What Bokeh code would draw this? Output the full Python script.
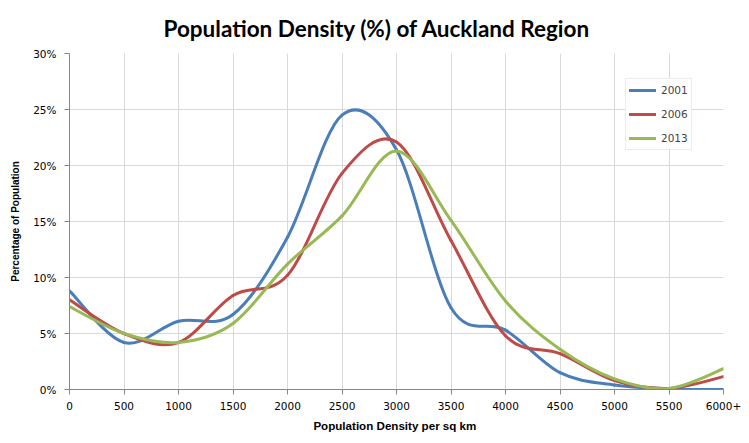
import numpy as np
from bokeh.plotting import figure
from bokeh.models import ColumnDataSource, NumeralTickFormatter, FixedTicker, Range1d, Legend, LegendItem
from bokeh.embed import file_html
from bokeh.resources import INLINE

# Population density bands (people per sq km); last band is open-ended
density = [0, 500, 1000, 1500, 2000, 2500, 3000, 3500, 4000, 4500, 5000, 5500, 6000]
tick_labels = ["0", "500", "1000", "1500", "2000", "2500", "3000", "3500",
               "4000", "4500", "5000", "5500", "6000+"]

# Share of population in each band (fraction)
pop_2001 = [0.088, 0.042, 0.061, 0.067, 0.136, 0.245, 0.214, 0.073, 0.053, 0.015, 0.004, 0.0005, 0.0]
pop_2006 = [0.080, 0.050, 0.042, 0.084, 0.102, 0.193, 0.221, 0.133, 0.048, 0.032, 0.008, 0.001, 0.0115]
pop_2013 = [0.074, 0.050, 0.042, 0.059, 0.112, 0.155, 0.213, 0.151, 0.079, 0.036, 0.0095, 0.001, 0.0185]

years = ["2001", "2006", "2013"]
series = [pop_2001, pop_2006, pop_2013]
colors = ["#4A7EBB", "#BE4B48", "#98B954"]


def smooth_segments(xs, ys, k=1.0 / 6.0):
    """Cubic Bezier segments through the points (Catmull-Rom style control points)."""
    xs = np.asarray(xs, float)
    ys = np.asarray(ys, float)
    n = len(xs)
    px = np.concatenate([[xs[0]], xs, [xs[-1]]])
    py = np.concatenate([[ys[0]], ys, [ys[-1]]])
    d = dict(x0=[], y0=[], x1=[], y1=[], cx0=[], cy0=[], cx1=[], cy1=[])
    for i in range(n - 1):
        j = i + 1
        d["x0"].append(px[j]); d["y0"].append(py[j])
        d["x1"].append(px[j + 1]); d["y1"].append(py[j + 1])
        d["cx0"].append(px[j] + (px[j + 1] - px[j - 1]) * k)
        d["cy0"].append(py[j] + (py[j + 1] - py[j - 1]) * k)
        d["cx1"].append(px[j + 1] - (px[j + 2] - px[j]) * k)
        d["cy1"].append(py[j + 1] - (py[j + 2] - py[j]) * k)
    return d


p = figure(width=749, height=443, output_backend="svg", toolbar_location=None,
           x_range=Range1d(0, 6000), y_range=Range1d(0, 0.30),
           min_border_left=69, min_border_right=26, min_border_top=53, min_border_bottom=54,
           title="Population Density (%) of Auckland Region")
p.outline_line_color = None
p.background_fill_color = "white"
p.border_fill_color = "white"

p.title.align = "left"
p.title.offset = 94
p.title.text_font = "Lato"
p.title.text_font_style = "bold"
p.title.text_font_size = "22.5px"
p.title.text_color = "#000000"
p.title.standoff = 24

grid_color = "#D9D9D9"
axis_color = "#868686"
p.xgrid.grid_line_color = grid_color
p.ygrid.grid_line_color = grid_color

p.xaxis.ticker = FixedTicker(ticks=density)
p.xaxis.major_label_overrides = {d: t for d, t in zip(density, tick_labels)}
p.yaxis.ticker = FixedTicker(ticks=[0, 0.05, 0.10, 0.15, 0.20, 0.25, 0.30])
p.yaxis.formatter = NumeralTickFormatter(format="0%")

for ax in (p.xaxis[0], p.yaxis[0]):
    ax.axis_line_color = axis_color
    ax.major_tick_line_color = axis_color
    ax.major_tick_out = 5
    ax.major_tick_in = 0
    ax.minor_tick_line_color = None
    ax.major_label_text_font = "DejaVu Sans"
    ax.major_label_text_font_size = "10.5px"
    ax.major_label_text_color = "#000000"
    ax.axis_label_text_font = "Liberation Sans"
    ax.axis_label_text_font_style = "bold"
    ax.axis_label_text_color = "#000000"

p.xaxis.axis_label = "Population  Density per sq km"
p.yaxis.axis_label = "Percentage of Population"
p.xaxis.axis_label_text_font_size = "11.6px"
p.yaxis.axis_label_text_font_size = "10px"
p.xaxis.major_label_standoff = 7
p.yaxis.major_label_standoff = 8
p.xaxis.axis_label_standoff = 6
p.yaxis.axis_label_standoff = 9

items = []
for year, vals, col in zip(years, series, colors):
    src = ColumnDataSource(smooth_segments(density, vals))
    r = p.bezier(x0="x0", y0="y0", x1="x1", y1="y1", cx0="cx0", cy0="cy0",
                 cx1="cx1", cy1="cy1", source=src, line_color=col, line_width=3,
                 line_cap="round")
    items.append(LegendItem(label=year, renderers=[r]))

legend = Legend(items=items, location=(556, 239))
legend.border_line_color = "#D9D9D9"
legend.background_fill_color = "white"
legend.label_text_font = "DejaVu Sans"
legend.label_text_font_size = "10.5px"
legend.glyph_width = 27
legend.glyph_height = 16
legend.label_height = 16
legend.label_standoff = 5
legend.spacing = 8
legend.padding = 3
legend.margin = 0
p.add_layout(legend, "center")

open("out.html", "w").write(file_html(p, INLINE))
